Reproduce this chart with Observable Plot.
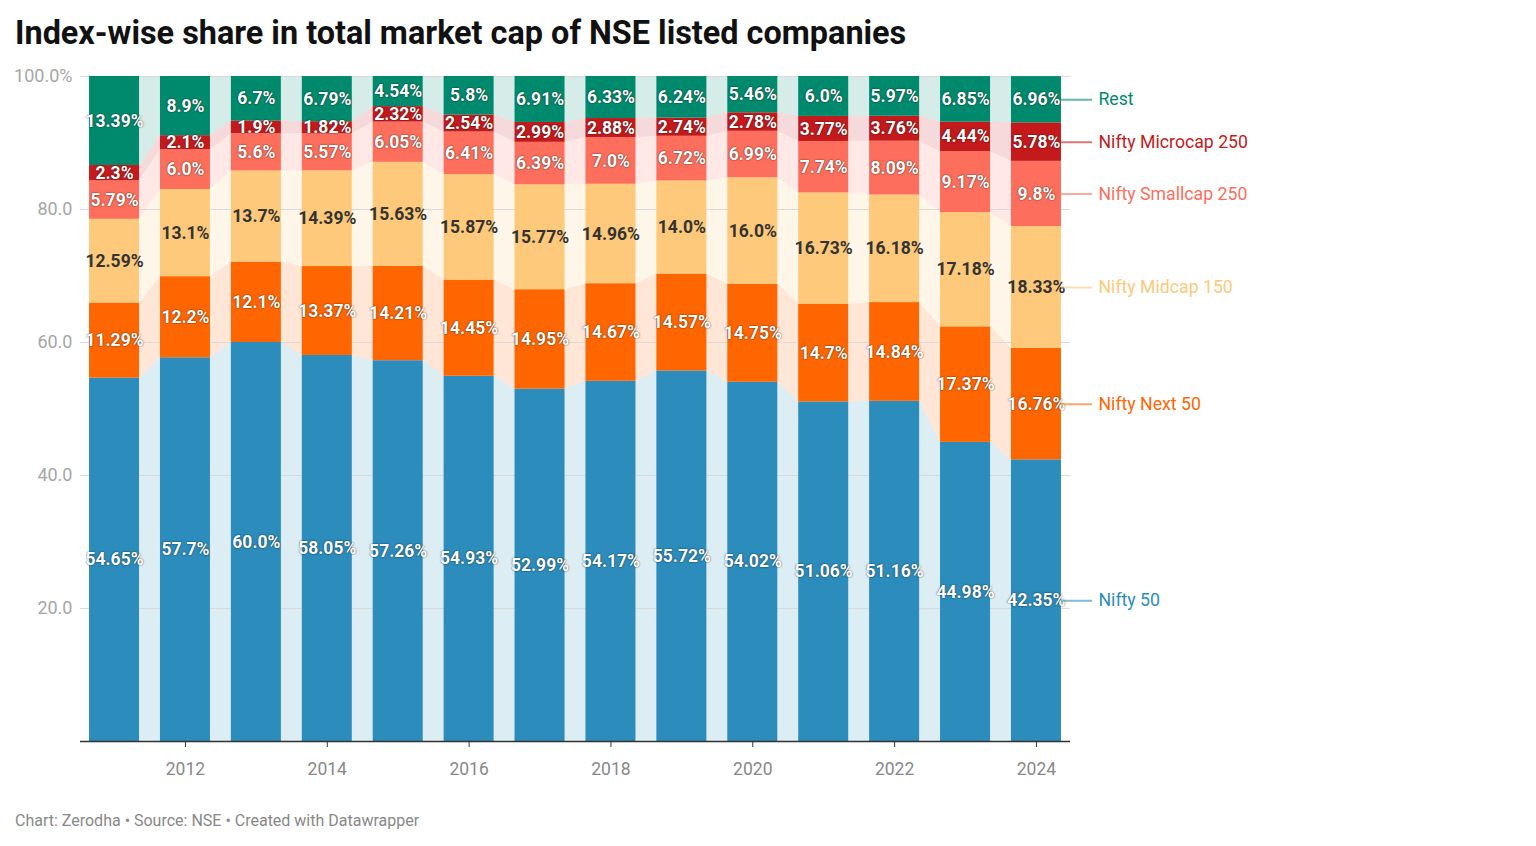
<!DOCTYPE html>
<html>
<head>
<meta charset="utf-8">
<script src="https://cdn.jsdelivr.net/npm/d3@7"></script>
<script src="https://cdn.jsdelivr.net/npm/@observablehq/plot@0.6"></script>
<style>
  html, body { margin: 0; padding: 0; background: #fff; }
  body { font-family: Roboto, "Noto Sans", sans-serif; width: 1536px; height: 846px; position: relative; overflow: hidden; }
  #title { position: absolute; left: 15px; top: 13px; font-size: 32.4px; font-weight: 700; color: #111; line-height: 40px; white-space: nowrap; }
  #chart { position: absolute; left: 0; top: 60px; }
  #caption { position: absolute; left: 15px; top: 811px; font-size: 16px; color: #888; line-height: 20px; white-space: nowrap; }
  g[fill="white"] text { text-shadow: 0 0 2px rgba(0,0,0,0.55), 0 0 1px rgba(0,0,0,0.4); }
</style>
</head>
<body>
<div id="title">Index-wise share in total market cap of NSE listed companies</div>
<div id="chart"></div>
<div id="caption">Chart: Zerodha • Source: NSE • Created with Datawrapper</div>
<script>
const years = [2011, 2012, 2013, 2014, 2015, 2016, 2017, 2018, 2019, 2020, 2021, 2022, 2023, 2024];
const seriesNames = ["Nifty 50", "Nifty Next 50", "Nifty Midcap 150", "Nifty Smallcap 250", "Nifty Microcap 250", "Rest"];
const nifty50   = [54.65, 57.7, 60.0, 58.05, 57.26, 54.93, 52.99, 54.17, 55.72, 54.02, 51.06, 51.16, 44.98, 42.35];
const niftyNext = [11.29, 12.2, 12.1, 13.37, 14.21, 14.45, 14.95, 14.67, 14.57, 14.75, 14.7, 14.84, 17.37, 16.76];
const midcap    = [12.59, 13.1, 13.7, 14.39, 15.63, 15.87, 15.77, 14.96, 14.0, 16.0, 16.73, 16.18, 17.18, 18.33];
const smallcap  = [5.79, 6.0, 5.6, 5.57, 6.05, 6.41, 6.39, 7.0, 6.72, 6.99, 7.74, 8.09, 9.17, 9.8];
const microcap  = [2.3, 2.1, 1.9, 1.82, 2.32, 2.54, 2.99, 2.88, 2.74, 2.78, 3.77, 3.76, 4.44, 5.78];
const rest      = [13.39, 8.9, 6.7, 6.79, 4.54, 5.8, 6.91, 6.33, 6.24, 5.46, 6.0, 5.97, 6.85, 6.96];
const seriesColors = ["#2c8cbc", "#ff6600", "#fec97a", "#fd6f5c", "#c41a1c", "#008a6d"];
const xTicks = [2012, 2014, 2016, 2018, 2020, 2022, 2024];
const yTicks = [20, 40, 60, 80, 100];

const seriesValues = [nifty50, niftyNext, midcap, smallcap, microcap, rest];
const half = 0.3525;

const fmt = v => { let s = String(v); if (!s.includes(".")) s += ".0"; return s + "%"; };

// stacked rows
const rows = [];
years.forEach((year, i) => {
  let acc = 0;
  seriesNames.forEach((name, k) => {
    const v = seriesValues[k][i];
    rows.push({year, series: name, value: v, y1: acc, y2: acc + v, mid: acc + v / 2});
    acc += v;
  });
});

// connecting areas (drawn under bars)
const areaRows = [];
seriesNames.forEach(name => {
  rows.filter(r => r.series === name).forEach(r => {
    areaRows.push({series: name, x: r.year - half, y1: r.y1, y2: r.y2});
    areaRows.push({series: name, x: r.year + half, y1: r.y1, y2: r.y2});
  });
});

const lastYear = years[years.length - 1];
const lastRows = rows.filter(r => r.year === lastYear);

const plot = Plot.plot({
  width: 1536,
  height: 726,
  marginLeft: 80,
  marginRight: 466,
  marginTop: 16,
  marginBottom: 45,
  style: {fontFamily: "Roboto, sans-serif", background: "transparent"},
  x: {type: "linear", domain: [2010.52, 2024.48], axis: null},
  y: {domain: [0, 100], axis: null},
  color: {domain: seriesNames, range: seriesColors},
  marks: [
    Plot.areaY(areaRows, {x: "x", y1: "y1", y2: "y2", z: "series", fill: "series", fillOpacity: 0.16, curve: "linear"}),
    Plot.gridY(yTicks, {stroke: "#d9d9d9", strokeOpacity: 1}),
    Plot.rect(rows, {x1: d => d.year - half, x2: d => d.year + half, y1: "y1", y2: "y2", fill: "series"}),
    Plot.ruleY([0], {stroke: "#333", strokeWidth: 1.5}),
    Plot.axisY(yTicks, {tickSize: 0, tickPadding: 8, fontSize: 18, color: "#a6a6a6",
      tickFormat: d => d === 100 ? "100.0%" : d.toFixed(1)}),
    Plot.axisX(xTicks, {tickSize: 6, tickPadding: 15, fontSize: 17.5, stroke: "#333", fill: "#888", tickFormat: d => String(d)}),
    Plot.text(rows.filter(r => r.series !== "Nifty Midcap 150"), {x: "year", y: "mid", text: d => fmt(d.value),
      fill: "white", fontSize: 17.5, fontWeight: 700}),
    Plot.text(rows.filter(r => r.series === "Nifty Midcap 150"), {x: "year", y: "mid", text: d => fmt(d.value),
      fill: "#333", fontSize: 17.5, fontWeight: 700}),
    Plot.ruleY(lastRows, {y: "mid", x1: d => d.year + half, x2: d => d.year + half + 0.44, stroke: "series", strokeOpacity: 0.6, strokeWidth: 2}),
    Plot.text(lastRows, {x: d => d.year + half, y: "mid", dx: 37, text: "series", fill: "series", textAnchor: "start", fontSize: 17.7})
  ]
});
document.getElementById("chart").appendChild(plot);
</script>
</body>
</html>
